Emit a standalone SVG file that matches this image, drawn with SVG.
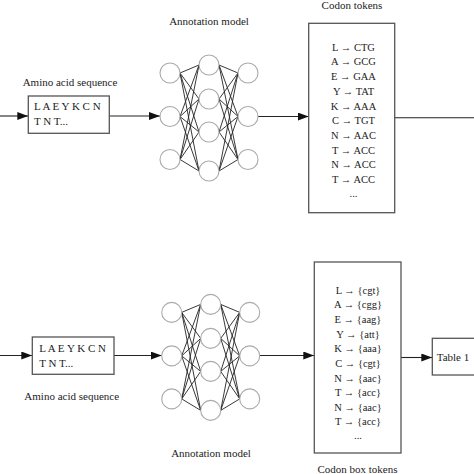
<svg xmlns="http://www.w3.org/2000/svg" xmlns:xlink="http://www.w3.org/1999/xlink" width="474" height="474" viewBox="0 0 474 474">
<style>
text{font-family:"Liberation Serif","Times New Roman",serif;fill:#222}
.t{font-size:11px;text-anchor:middle}
.row{font-size:10.5px;text-anchor:middle}
.seq{font-size:11px}
.box{fill:#fff;stroke:#555;stroke-width:1.3}
.conn{stroke:#222;stroke-width:1.1;fill:none}
.nn circle{fill:#fff;stroke:#aaa;stroke-width:1.1}
.nn line{stroke:#222;stroke-width:0.9}
</style>
<defs>
<marker id="ah" markerWidth="11" markerHeight="8" refX="11" refY="4" orient="auto" markerUnits="userSpaceOnUse">
<path d="M0,0 L11,4 L0,8 Z" fill="#111"/>
</marker>
<g id="net" class="nn">
<line x1="180" y1="73" x2="199" y2="65"/><line x1="180" y1="73" x2="199" y2="99"/><line x1="180" y1="73" x2="199" y2="132"/><line x1="180" y1="73" x2="199" y2="171"/>
<line x1="180" y1="116.5" x2="199" y2="65"/><line x1="180" y1="116.5" x2="199" y2="99"/><line x1="180" y1="116.5" x2="199" y2="132"/><line x1="180" y1="116.5" x2="199" y2="171"/>
<line x1="180" y1="159.5" x2="199" y2="65"/><line x1="180" y1="159.5" x2="199" y2="99"/><line x1="180" y1="159.5" x2="199" y2="132"/><line x1="180" y1="159.5" x2="199" y2="171"/>
<line x1="219" y1="65" x2="238" y2="73"/><line x1="219" y1="65" x2="238" y2="116.5"/><line x1="219" y1="65" x2="238" y2="159.5"/>
<line x1="219" y1="99" x2="238" y2="73"/><line x1="219" y1="99" x2="238" y2="116.5"/><line x1="219" y1="99" x2="238" y2="159.5"/>
<line x1="219" y1="132" x2="238" y2="73"/><line x1="219" y1="132" x2="238" y2="116.5"/><line x1="219" y1="132" x2="238" y2="159.5"/>
<line x1="219" y1="171" x2="238" y2="73"/><line x1="219" y1="171" x2="238" y2="116.5"/><line x1="219" y1="171" x2="238" y2="159.5"/>
<circle cx="170" cy="73" r="10"/><circle cx="170" cy="116.5" r="10"/><circle cx="170" cy="159.5" r="10"/>
<circle cx="209" cy="65" r="10"/><circle cx="209" cy="99" r="10"/><circle cx="209" cy="132" r="10"/><circle cx="209" cy="171" r="10"/>
<circle cx="248" cy="73" r="10"/><circle cx="248" cy="116.5" r="10"/><circle cx="248" cy="159.5" r="10"/>
</g>
</defs>

<g id="connectors">
<line class="conn" x1="0" y1="116" x2="28.3" y2="116" marker-end="url(#ah)"/>
<line class="conn" x1="109.3" y1="116" x2="160" y2="116" marker-end="url(#ah)"/>
<line class="conn" x1="258" y1="116.5" x2="308.7" y2="116.5" marker-end="url(#ah)"/>
<line class="conn" x1="394.7" y1="117.7" x2="474" y2="117.7"/>
<line class="conn" x1="0" y1="355.5" x2="32.3" y2="355.5" marker-end="url(#ah)"/>
<line class="conn" x1="114" y1="355.5" x2="161.7" y2="355.5" marker-end="url(#ah)"/>
<line class="conn" x1="259.7" y1="355.5" x2="314.3" y2="355.5" marker-end="url(#ah)"/>
<line class="conn" x1="401" y1="357.5" x2="432.3" y2="357.5" marker-end="url(#ah)"/>
</g>

<g id="amino-top">
<text class="t" x="70" y="86">Amino acid sequence</text>
<rect class="box" x="28.3" y="96" width="81" height="37.3"/>
<text class="seq" x="34" y="110">L A E Y K C N</text>
<text class="seq" x="34" y="125.3">T N T...</text>
</g>

<g id="model-top">
<text class="t" x="209" y="25">Annotation model</text>
<use xlink:href="#net"/>
</g>

<g id="codon-top">
<text class="t" x="352" y="9">Codon tokens</text>
<rect class="box" x="308.7" y="23.3" width="86" height="189.4"/>
<text class="row" x="353.5" y="50.7">L → CTG</text>
<text class="row" x="353.5" y="65.4">A → GCG</text>
<text class="row" x="353.5" y="80.1">E → GAA</text>
<text class="row" x="353.5" y="94.8">Y → TAT</text>
<text class="row" x="353.5" y="109.5">K → AAA</text>
<text class="row" x="353.5" y="124.2">C → TGT</text>
<text class="row" x="353.5" y="138.9">N → AAC</text>
<text class="row" x="353.5" y="153.6">T → ACC</text>
<text class="row" x="353.5" y="168.3">N → ACC</text>
<text class="row" x="353.5" y="183">T → ACC</text>
<text class="row" x="353.5" y="196.5">...</text>
</g>

<g id="amino-bottom">
<rect class="box" x="32.3" y="337" width="81.7" height="37.3"/>
<text class="seq" x="39.3" y="352">L A E Y K C N</text>
<text class="seq" x="39.3" y="367">T N T...</text>
<text class="t" x="71.7" y="400.3">Amino acid sequence</text>
</g>

<g id="model-bottom">
<use xlink:href="#net" transform="translate(1.7,239.4)"/>
<text class="t" x="211" y="457">Annotation model</text>
</g>

<g id="codonbox-bottom">
<rect class="box" x="314.3" y="262" width="86.7" height="191"/>
<text class="row" x="358" y="293.7">L → {cgt}</text>
<text class="row" x="358" y="308.3">A → {cgg}</text>
<text class="row" x="358" y="323">E → {aag}</text>
<text class="row" x="358" y="337.6">Y → {att}</text>
<text class="row" x="358" y="352.2">K → {aaa}</text>
<text class="row" x="358" y="366.9">C → {cgt}</text>
<text class="row" x="358" y="381.5">N → {aac}</text>
<text class="row" x="358" y="396.1">T → {acc}</text>
<text class="row" x="358" y="410.8">N → {aac}</text>
<text class="row" x="358" y="425.4">T → {acc}</text>
<text class="row" x="358" y="438.5">...</text>
<text class="t" x="357.5" y="472.5">Codon box tokens</text>
</g>

<g id="table1">
<rect class="box" x="432.3" y="338.3" width="50" height="36.7"/>
<text class="seq" x="436.7" y="360.7">Table 1</text>
</g>
</svg>
